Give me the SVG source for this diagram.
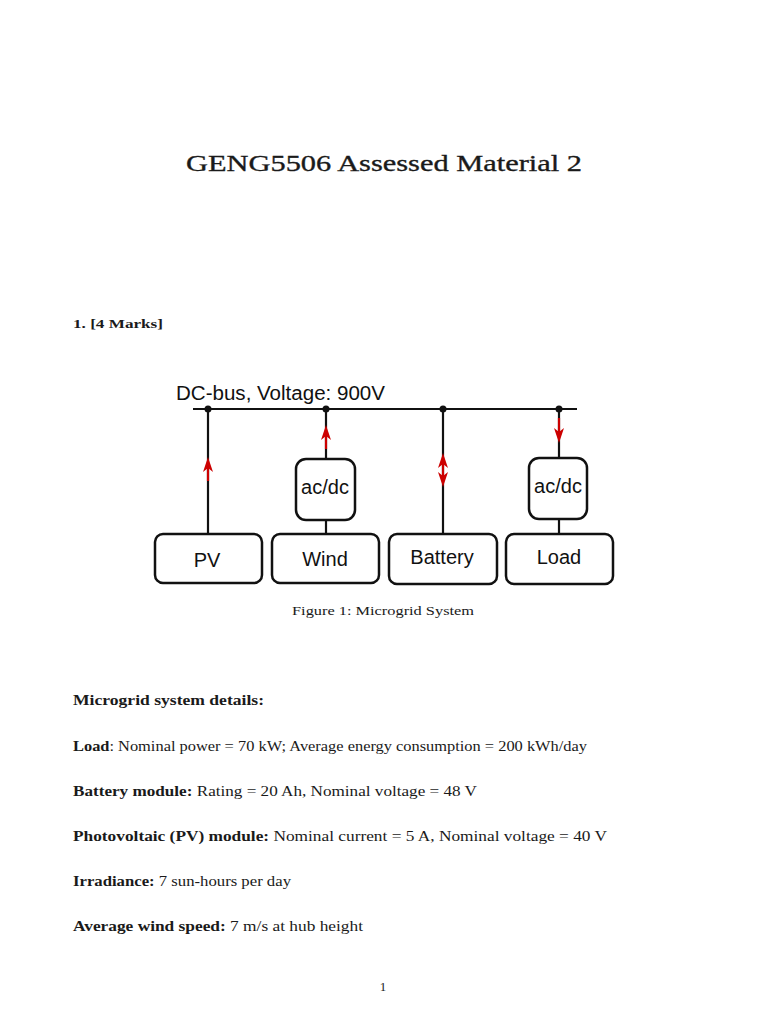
<svg xmlns="http://www.w3.org/2000/svg" width="768" height="1024" viewBox="0 0 768 1024">
<style>
.serif{font-family:"Liberation Serif","DejaVu Serif",serif;fill:#1a1a1a}
.b{font-weight:bold}
.sans{font-family:"Liberation Sans",Arial,sans-serif;fill:#111;font-size:20px}
.box{fill:#fff;stroke:#111;stroke-width:2.5}
.wire{stroke:#111;stroke-width:2.2;fill:none}
.red{stroke:#cc0000;stroke-width:2.2;fill:none}
.head{fill:#cc0000}
</style>
<rect width="768" height="1024" fill="#fff"/>
<text class="serif" x="384" y="171" font-size="24" stroke="#1a1a1a" stroke-width="0.35" text-anchor="middle" textLength="396" lengthAdjust="spacingAndGlyphs">GENG5506 Assessed Material 2</text>
<text class="serif b" x="73" y="328" font-size="13.5" textLength="90" lengthAdjust="spacingAndGlyphs">1. [4 Marks]</text>

<g id="connectors">
<line class="wire" x1="193" y1="409" x2="577" y2="409" stroke-width="3.8"/>
<circle cx="208" cy="409" r="3.5" fill="#111"/>
<circle cx="326" cy="409" r="3.5" fill="#111"/>
<circle cx="443" cy="409" r="3.5" fill="#111"/>
<circle cx="559" cy="409" r="3.5" fill="#111"/>
<line class="wire" x1="208" y1="409" x2="208" y2="534"/>
<line class="wire" x1="326" y1="409" x2="326" y2="459"/>
<line class="wire" x1="326" y1="519" x2="326" y2="534"/>
<line class="wire" x1="443" y1="409" x2="443" y2="534"/>
<line class="wire" x1="559" y1="409" x2="559" y2="459"/>
<line class="wire" x1="559" y1="519" x2="559" y2="534"/>
<line class="red" x1="208" y1="467" x2="208" y2="481"/>
<path class="head" d="M208,457 L213,472 L208,468 L203,472 Z"/>
<line class="red" x1="326" y1="435" x2="326" y2="449"/>
<path class="head" d="M326,425 L331,440 L326,436 L321,440 Z"/>
<line class="red" x1="443" y1="462" x2="443" y2="478"/>
<path class="head" d="M443,453 L448,468 L443,464 L438,468 Z"/>
<path class="head" d="M443,487 L448,472 L443,476 L438,472 Z"/>
<line class="red" x1="559" y1="418" x2="559" y2="433"/>
<path class="head" d="M559,443 L564,428 L559,432 L554,428 Z"/>
</g>

<text class="sans" x="176" y="400" textLength="209" lengthAdjust="spacingAndGlyphs">DC-bus, Voltage: 900V</text>

<g id="pv">
<rect class="box" x="155" y="534" width="107" height="49" rx="8"/>
<text class="sans" x="207" y="567" text-anchor="middle">PV</text>
</g>
<g id="wind">
<rect class="box" x="272" y="534" width="107" height="49" rx="8"/>
<text class="sans" x="325" y="566" text-anchor="middle">Wind</text>
</g>
<g id="battery">
<rect class="box" x="389" y="534" width="108" height="50" rx="8"/>
<text class="sans" x="442" y="564" text-anchor="middle">Battery</text>
</g>
<g id="load">
<rect class="box" x="506" y="534" width="107" height="50" rx="8"/>
<text class="sans" x="559" y="564" text-anchor="middle">Load</text>
</g>
<g id="acdc-wind">
<rect class="box" x="296" y="459" width="59" height="61" rx="10"/>
<text class="sans" x="325" y="494" text-anchor="middle">ac/dc</text>
</g>
<g id="acdc-load">
<rect class="box" x="529" y="458" width="58" height="61" rx="10"/>
<text class="sans" x="558" y="493" text-anchor="middle">ac/dc</text>
</g>

<text class="serif" x="383" y="615" font-size="13.5" text-anchor="middle" textLength="182" lengthAdjust="spacingAndGlyphs">Figure 1: Microgrid System</text>

<text class="serif b" x="73" y="705" font-size="14" textLength="191" lengthAdjust="spacingAndGlyphs">Microgrid system details:</text>
<text class="serif" x="73" y="751" font-size="14" textLength="514" lengthAdjust="spacingAndGlyphs"><tspan class="b">Load</tspan>: Nominal power = 70 kW; Average energy consumption = 200 kWh/day</text>
<text class="serif" x="73" y="796" font-size="14" textLength="404" lengthAdjust="spacingAndGlyphs"><tspan class="b">Battery module:</tspan> Rating = 20 Ah, Nominal voltage = 48 V</text>
<text class="serif" x="73" y="841" font-size="14" textLength="534" lengthAdjust="spacingAndGlyphs"><tspan class="b">Photovoltaic (PV) module:</tspan> Nominal current = 5 A, Nominal voltage = 40 V</text>
<text class="serif" x="73" y="886" font-size="14" textLength="218" lengthAdjust="spacingAndGlyphs"><tspan class="b">Irradiance:</tspan> 7 sun-hours per day</text>
<text class="serif" x="73" y="931" font-size="14" textLength="290" lengthAdjust="spacingAndGlyphs"><tspan class="b">Average wind speed:</tspan> 7 m/s at hub height</text>

<text class="serif" x="383" y="991" font-size="13" text-anchor="middle">1</text>
</svg>
